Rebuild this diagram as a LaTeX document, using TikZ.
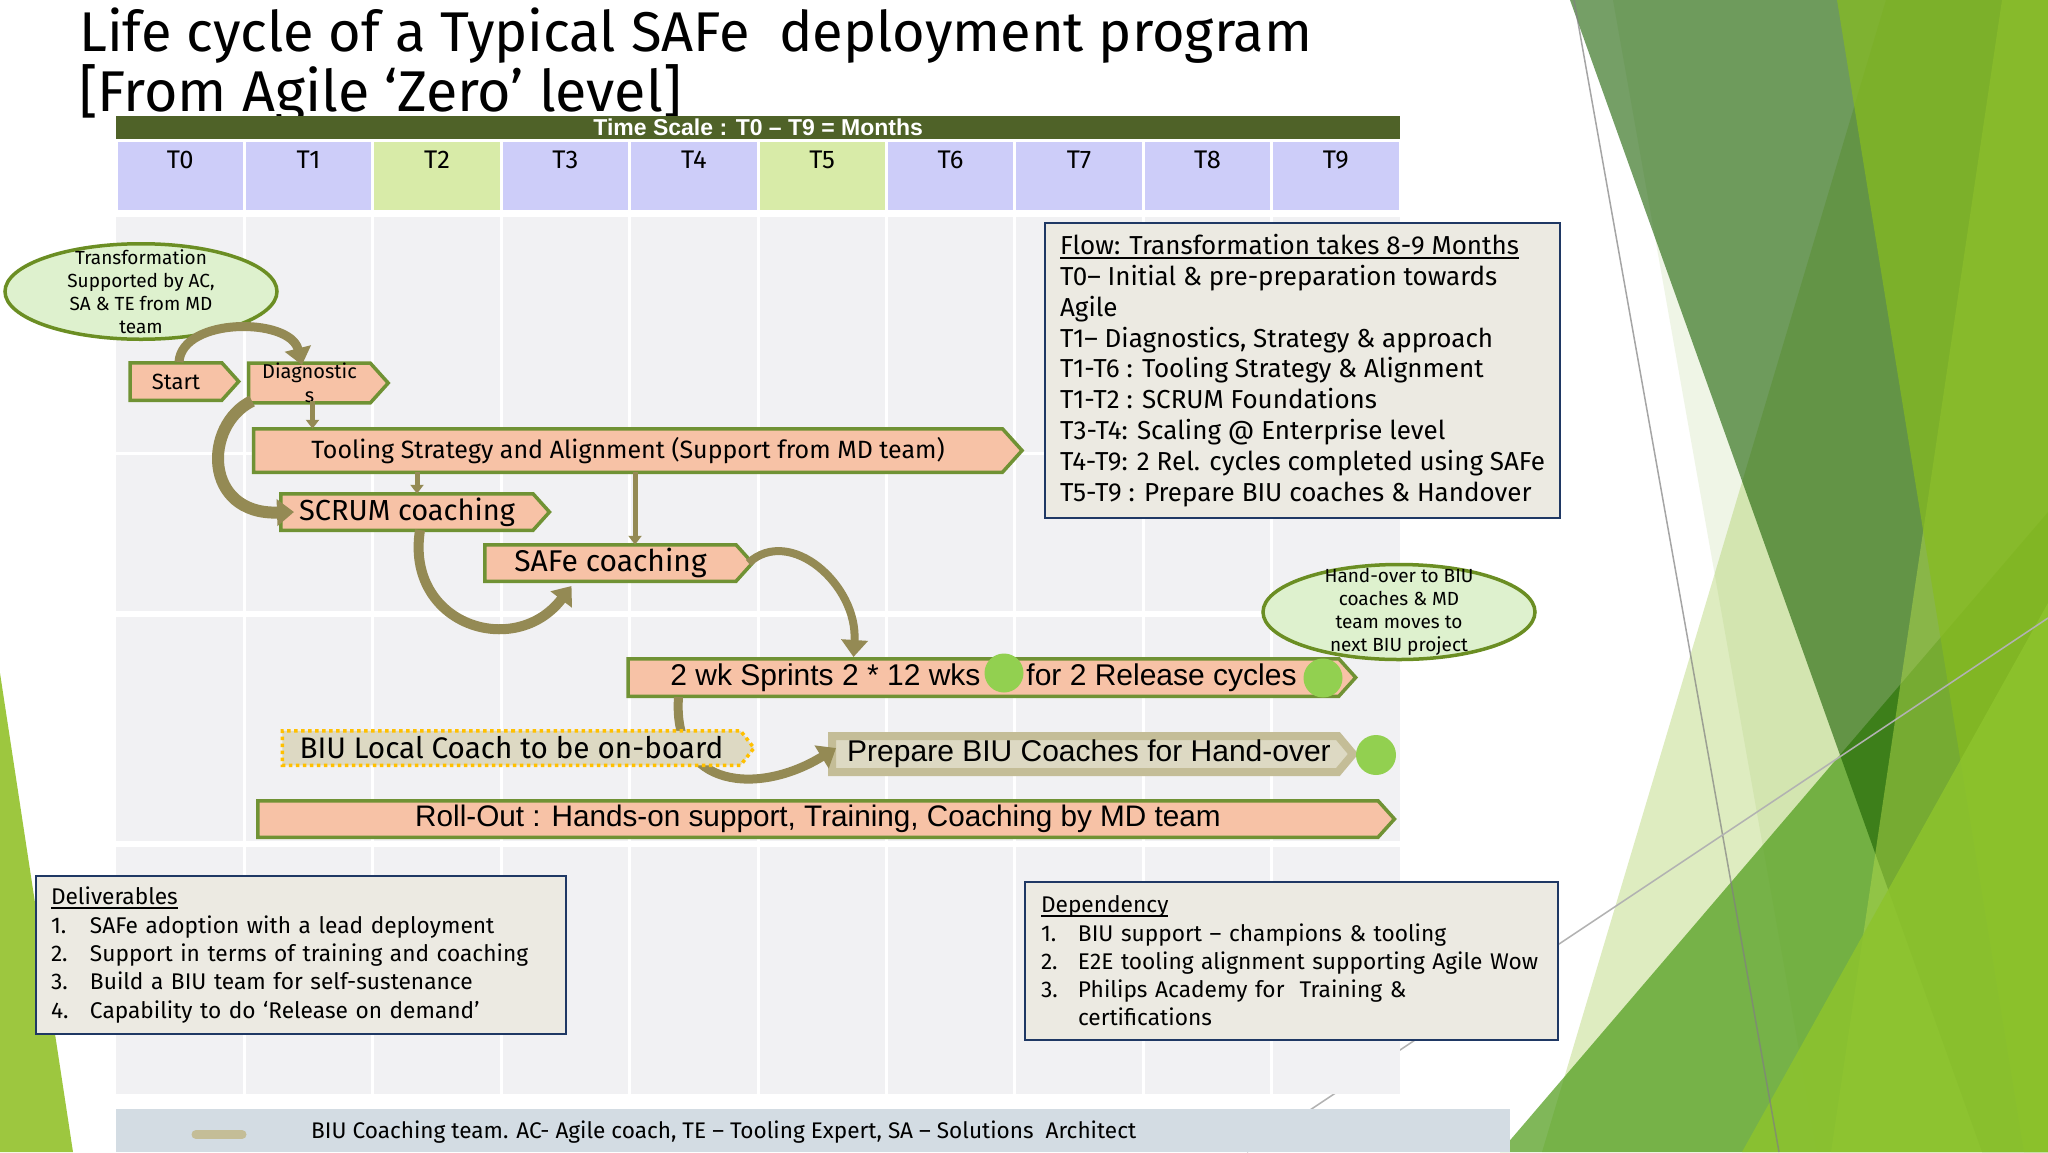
\documentclass[tikz,border=0pt]{standalone}
\usepackage{fontspec}
\setmainfont{Fira Sans}
\newfontfamily\arialf{Liberation Sans}
\usetikzlibrary{shapes.symbols,shapes.geometric,arrows.meta,calc}
\newcommand{\myfs}[2]{\fontsize{#1}{#2}\selectfont}
\newcommand{\myul}[1]{\setbox0\hbox{#1}\rlap{\rule[-4pt]{\wd0}{1.6pt}}\box0}
\definecolor{peach}{RGB}{247,194,166}
\definecolor{olivebd}{RGB}{112,146,52}
\definecolor{arrowc}{RGB}{148,138,84}
\definecolor{ellfill}{RGB}{222,241,206}
\definecolor{ellbd}{RGB}{107,142,35}
\definecolor{dotgreen}{RGB}{146,208,80}
\definecolor{tanfill}{RGB}{221,217,195}
\definecolor{tanbd}{RGB}{196,189,151}
\definecolor{yelbd}{RGB}{255,192,0}
\definecolor{boxfill}{RGB}{236,234,226}
\definecolor{navy}{RGB}{31,56,100}
\definecolor{hdrgreen}{RGB}{79,98,40}
\definecolor{lav}{RGB}{205,205,249}
\definecolor{lgreen}{RGB}{216,235,168}
\definecolor{gridgray}{RGB}{241,241,243}
\definecolor{footbg}{RGB}{211,220,227}
\definecolor{dA}{RGB}{200,224,150}
\definecolor{dB}{RGB}{150,190,90}
\definecolor{dC}{RGB}{79,156,26}
\definecolor{dD}{RGB}{25,95,0}
\definecolor{dE}{RGB}{176,216,74}
\definecolor{dF}{RGB}{135,188,31}
\definecolor{dG}{RGB}{141,195,45}
\definecolor{leftg}{RGB}{157,199,63}
\begin{document}
\begin{tikzpicture}[x=1pt,y=-1pt,
  stepbox/.style={signal, signal to=east, signal pointer angle=96, draw=olivebd,
    line width=3.5pt, fill=peach, inner sep=0pt, outer sep=0pt},
  notebox/.style={rectangle, draw=navy, line width=2.5pt, fill=boxfill, outer sep=0pt,
    inner ysep=4pt, align=left},
  bubble/.style={ellipse, draw=ellbd, line width=3.5pt, fill=ellfill, inner sep=0pt},
  bubbletext/.style={align=center, inner sep=0pt, font=\myfs{19}{23}},
  gdot/.style={circle, fill=dotgreen, inner sep=0pt, minimum size=39pt},
  curvarrow/.style={draw=arrowc, line width=9pt, -{Triangle[width=26pt,length=17pt]}},
  strarrow/.style={draw=arrowc, line width=5pt, -{Triangle[width=13pt,length=9pt]}}
]
\useasboundingbox (0,0) rectangle (2048,1152);
\fill[white] (0,0) rectangle (2048,1152);

% ---------- background decoration ----------
\fill[leftg] (0,673) -- (73,1152) -- (0,1152) -- cycle;
\fill[dA, fill opacity=0.6] (1886,0) -- (2048,0) -- (2048,1152) -- (1542,1152) -- cycle;
\fill[dB, fill opacity=0.15] (1613,0) -- (2048,0) -- (2048,1152) -- (1817,1152) -- cycle;
\fill[dC, fill opacity=0.72] (1500,1152) -- (2048,512) -- (2048,1152) -- cycle;
\fill[dD, fill opacity=0.6] (1570,0) -- (2048,0) -- (2048,1152) -- (1982,1152) -- cycle;
\fill[dE, fill opacity=0.5] (2002,0) -- (2048,0) -- (2048,1152) -- (1831,1152) -- cycle;
\fill[dF, fill opacity=0.7] (1837,0) -- (2048,0) -- (2048,1152) -- (2024,1152) -- cycle;
\fill[dG, fill opacity=0.85] (1742,1152) -- (2048,603) -- (2048,1152) -- cycle;
\draw[gray, draw opacity=0.7, line width=1.5pt] (1574,0) -- (1779,1152);
\draw[gray!60, line width=1.5pt] (1247,1152) -- (2048,618);

% ---------- title ----------
\node[anchor=base west, inner sep=0pt, font=\myfs{56}{58}] (title1) at (79,51)
  {Life cycle of a Typical SAFe\ \ deployment program};
\node[anchor=base west, inner sep=0pt, font=\myfs{57.5}{58}] (title2) at (79,111)
  {[From Agile ‘Zero’ level]};

% ---------- time table ----------
\node[fill=hdrgreen, anchor=north west, minimum width=1284pt, minimum height=23pt,
  inner sep=0pt, text=white, font=\arialf\bfseries\myfs{23}{24}] (hdr) at (116,116)
  {Time Scale : T0 – T9 = Months};
\fill[gridgray] (116,217) rectangle (1400,1094);
\fill[white] (116,452) rectangle (1400,455);
\fill[white] (116,611) rectangle (1400,617);
\fill[white] (116,841) rectangle (1400,847);
\foreach \k in {0,...,9}{
  \pgfmathsetmacro{\xa}{116+128.4*\k}
  \ifnum\k=2 \def\cc{lgreen}\else\ifnum\k=5 \def\cc{lgreen}\else\def\cc{lav}\fi\fi
  \fill[\cc] (\xa+1.5,142) rectangle (\xa+126.9,210);
  \node[font=\myfs{25.5}{28}] (t\k) at (\xa+64.2,160) {T\k};
}
\foreach \k in {1,...,9}{
  \pgfmathsetmacro{\xa}{116+128.4*\k}
  \draw[white, line width=3pt] (\xa,217) -- (\xa,1094);
}

% ---------- flow nodes ----------
\node[bubble, minimum width=272pt, minimum height=95.5pt] (trans) at (141,291.5) {};
\node[bubbletext] (transtxt) at (trans.center) {Transformation\\Supported by AC,\\SA \& TE from MD\\team};
\node[stepbox, minimum width=108.5pt, minimum height=37.5pt, font=\myfs{22}{24}] (start) at (176,381.5) {Start};
\node[stepbox, minimum width=139.5pt, minimum height=36.5pt, align=center, font=\myfs{20}{24}] (diag) at (309.5,383) {Diagnostic\\s};
\node[stepbox, minimum width=768.5pt, minimum height=43.5pt, font=\myfs{25}{28}] (tool) at (628,450.5)
  {Tooling Strategy and Alignment (Support from MD team)};
\node[stepbox, minimum width=268.5pt, minimum height=36.5pt, font=\myfs{29}{30}] (scrum) at (407,512) {SCRUM coaching};
\node[stepbox, minimum width=267.5pt, minimum height=36.5pt, font=\myfs{30}{30}] (safe) at (610.5,563) {SAFe coaching};
\node[stepbox, minimum width=727.5pt, minimum height=37.5pt, font=\arialf\myfs{30}{32}] (sprint) at (983.5,677.5)
  {2 wk Sprints 2 * 12 wks\hspace{46pt}for 2 Release cycles};
\node[stepbox, minimum width=1136.5pt, minimum height=36.5pt, font=\arialf\myfs{29.7}{32}] (roll) at (818,819)
  {Roll-Out : Hands-on support, Training, Coaching by MD team};
\node[stepbox, draw=tanbd, fill=tanfill, line width=8pt, signal pointer angle=100,
  minimum width=521pt, minimum height=36pt, font=\arialf\myfs{30}{32}] (prep) at (1085,754)
  {\hspace*{8pt}Prepare BIU Coaches for Hand-over};
\node[bubble, minimum width=272pt, minimum height=95pt] (hand) at (1399,612) {};
\node[bubbletext] (handtxt) at (hand.center) {Hand-over to BIU\\coaches \& MD\\team moves to\\next BIU project};
\node[gdot] (g1) at (1004,673) {};
\node[gdot] (g2) at (1323,678) {};
\node[gdot, minimum size=40pt] (g3) at (1376,755) {};

% ---------- connectors ----------
\draw[curvarrow] ($(start.center)+(3,-19.5)$) .. controls +(3,-45) and +(-12,-48) .. ($(diag.center)+(-7.5,-18)$);
\draw[curvarrow, line width=12pt] ($(diag.center)+(-57.5,18)$) .. controls (203,425) and (203,515) .. ($(scrum.center)+(-113,0)$);
\coordinate (d1) at ($(diag.center)+(3,18)$);
\draw[strarrow] (d1) -- (d1 |- tool.north);
\coordinate (s2) at ($(scrum.center)+(10,-18.25)$);
\draw[strarrow] (tool.south -| s2) -- (s2);
\coordinate (s3) at ($(safe.center)+(24.5,-18.25)$);
\draw[strarrow] (tool.south -| s3) -- (s3);
\draw[curvarrow, line width=10pt] ($(scrum.center)+(13,18)$) .. controls (405,625) and (515,660) .. ($(safe.center)+(-39,23)$);
\draw[curvarrow, line width=8pt] ($(safe.east)+(-4,0)$) .. controls (790,525) and (858,585) .. ($(sprint.center)+(-130,-20.5)$);
\draw[curvarrow, line width=9pt] ($(sprint.center)+(-305,19.5)$) .. controls (672,790) and (760,795) .. ($(prep.west)+(4,-6)$);

\node[stepbox, draw=yelbd, fill=tanfill, line width=3.5pt, dash pattern=on 3.5pt off 3.5pt,
  signal pointer angle=104, minimum width=471.5pt, minimum height=34.5pt, font=\myfs{29.7}{30}] (biu) at (511.5,748)
  {BIU Local Coach to be on-board};

% ---------- text boxes ----------
\node[notebox, anchor=north west, minimum width=515pt, minimum height=295pt,
  inner xsep=10pt, font=\myfs{26}{30.8}] (flow) at (1045,223)
  {\myul{Flow: Transformation takes 8-9 Months}\\
   T0– Initial \& pre-preparation towards\\
   Agile\\
   T1– Diagnostics, Strategy \& approach\\
   T1-T6 : Tooling Strategy \& Alignment\\
   T1-T2 : SCRUM Foundations\\
   T3-T4: Scaling @ Enterprise level\\
   T4-T9: 2 Rel. cycles completed using SAFe\\
   T5-T9 : Prepare BIU coaches \& Handover};
\node[notebox, anchor=north west, minimum width=530pt, minimum height=158pt, text width=500pt,
  inner xsep=15pt, font=\myfs{22.7}{28.3}] (deliv) at (36,876)
  {\myul{Deliverables}\\
   \makebox[39pt][l]{1.}SAFe adoption with a lead deployment\\
   \makebox[39pt][l]{2.}Support in terms of training and coaching\\
   \makebox[39pt][l]{3.}Build a BIU team for self-sustenance\\
   \makebox[39pt][l]{4.}Capability to do ‘Release on demand’};
\node[notebox, anchor=north west, minimum width=533pt, minimum height=158pt, text width=501pt,
  inner xsep=16pt, font=\myfs{22.7}{28.3}] (dep) at (1025,882)
  {\myul{Dependency}\\
   \makebox[37pt][l]{1.}BIU support – champions \& tooling\\
   \makebox[37pt][l]{2.}E2E tooling alignment supporting Agile Wow\\
   \makebox[37pt][l]{3.}Philips Academy for\ \ Training \&\\
   \hspace*{37pt}certifications};

% ---------- footer ----------
\fill[footbg] (116,1109) rectangle (1510,1152);
\draw[tanbd, line width=9pt, line cap=round] (196,1134.5) -- (242,1134.5);
\node[anchor=west, inner sep=0pt, font=\myfs{22.6}{24}] (foot) at (311,1132)
  {BIU Coaching team. AC- Agile coach, TE – Tooling Expert, SA – Solutions\ \ Architect};
\end{tikzpicture}
\end{document}
